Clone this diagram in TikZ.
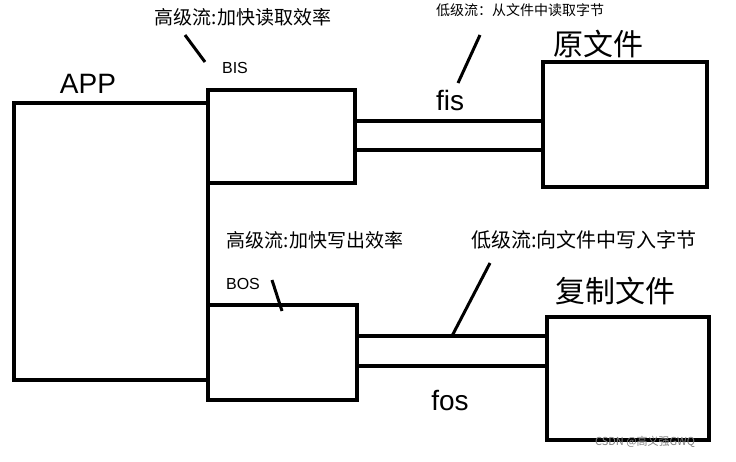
\documentclass[tikz,border=0pt]{standalone}
\usepackage{fontspec}
\setmainfont{Liberation Sans}
\newfontfamily\cjk{Noto Sans CJK SC}
\begin{document}
\begin{tikzpicture}[x=1pt,y=-1pt,
  box/.style={draw,line width=3.5pt},
  pipe/.style={line width=3.5pt},
  ptr/.style={line width=3pt},
  big/.style={font=\fontsize{28}{30}\selectfont},
  mid/.style={font=\cjk\fontsize{19}{21}\selectfont},
  sml/.style={font=\cjk\fontsize{14}{16}\selectfont}]
\useasboundingbox (0,0) rectangle (736,461);
\fill[white] (0,0) rectangle (736,461);
\draw[box] (14,103) rectangle (208,380);
\draw[box] (208,90) rectangle (355,183);
\draw[box] (543,62) rectangle (707,187);
\draw[box] (208,305) rectangle (357,400);
\draw[box] (547,317) rectangle (709,440);
\coordinate (f1a) at (355,121); \coordinate (f1b) at (543,121);
\coordinate (f2a) at (355,150); \coordinate (f2b) at (543,150);
\draw[pipe] (f1a) -- (f1b); \draw[pipe] (f2a) -- (f2b);
\coordinate (g1a) at (357,336); \coordinate (g1b) at (547,336);
\coordinate (g2a) at (357,366); \coordinate (g2b) at (547,366);
\draw[pipe] (g1a) -- (g1b); \draw[pipe] (g2a) -- (g2b);
\node[big] (app) at (88,84) {APP};
\node[font=\fontsize{16}{18}\selectfont] (bisl) at (235,68) {BIS};
\node[mid] (h1) at (243,17) {高级流:加快读取效率};
\draw[ptr] (185,35) -- (205,62);
\node[sml] (l1) at (520,10) {低级流：从文件中读取字节};
\draw[ptr] (480,35) -- (458,83);
\node[big] (fis) at (450,100) {fis};
\node[font=\cjk\fontsize{30}{32}\selectfont] (src) at (598,44) {原文件};
\node[mid] (h2) at (315,240) {高级流:加快写出效率};
\node[font=\fontsize{16}{18}\selectfont] (bosl) at (243,284) {BOS};
\draw[ptr] (272,280) -- (282,311);
\node[font=\cjk\fontsize{20}{22}\selectfont] (l2) at (584,240) {低级流:向文件中写入字节};
\draw[ptr] (490,263) -- (452,336);
\node[font=\cjk\fontsize{30}{32}\selectfont] (dst) at (615,291) {复制文件};
\node[big] (fos) at (450,400) {fos};
\node[font=\cjk\fontsize{11}{13}\selectfont,text=gray] (wm) at (645,442) {CSDN @高义强GWQ};
\end{tikzpicture}
\end{document}
